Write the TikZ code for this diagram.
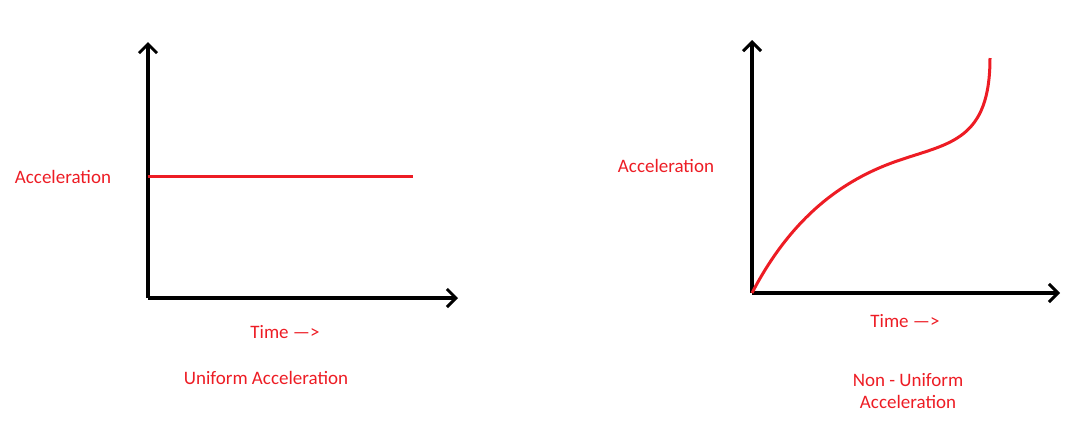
\documentclass[tikz,border=0pt]{standalone}
\usepackage{fontspec}
\setmainfont{Carlito}
\usetikzlibrary{arrows.meta}
\definecolor{lblred}{RGB}{237,28,36}
\begin{document}
\begin{tikzpicture}[x=1pt,y=-1pt]
\useasboundingbox (0,0) rectangle (1077,424);
\tikzset{axis/.style={line width=3.5pt,-{Straight Barb[length=9pt,width=18pt,line width=3pt]}},
  lbl/.style={color=lblred,font=\fontsize{19}{22}\selectfont}}
% left plot
\coordinate (o1) at (148,298);
\draw[axis] (o1) -- (148,42);
\draw[axis] (o1) -- (458,298);
\draw[color=lblred,line width=3pt] (148,176) -- (413,176);
\node[lbl] (acc1) at (63,177) {Acceleration};
\node[lbl] (time1) at (285,332) {Time --->};
\node[lbl] (cap1) at (266,378) {Uniform Acceleration};
% right plot
\coordinate (o2) at (752,293);
\draw[axis] (o2) -- (752,40);
\draw[axis] (o2) -- (1060,293);
\draw[color=lblred,line width=3pt] (o2) .. controls (790,220) and (840,180) .. (900,160)
  .. controls (950,143) and (990,140) .. (990,58);
\node[lbl] (acc2) at (666,166) {Acceleration};
\node[lbl] (time2) at (905,321) {Time --->};
\node[lbl,align=center] (cap2) at (908,391) {Non - Uniform\\Acceleration};
\end{tikzpicture}
\end{document}
